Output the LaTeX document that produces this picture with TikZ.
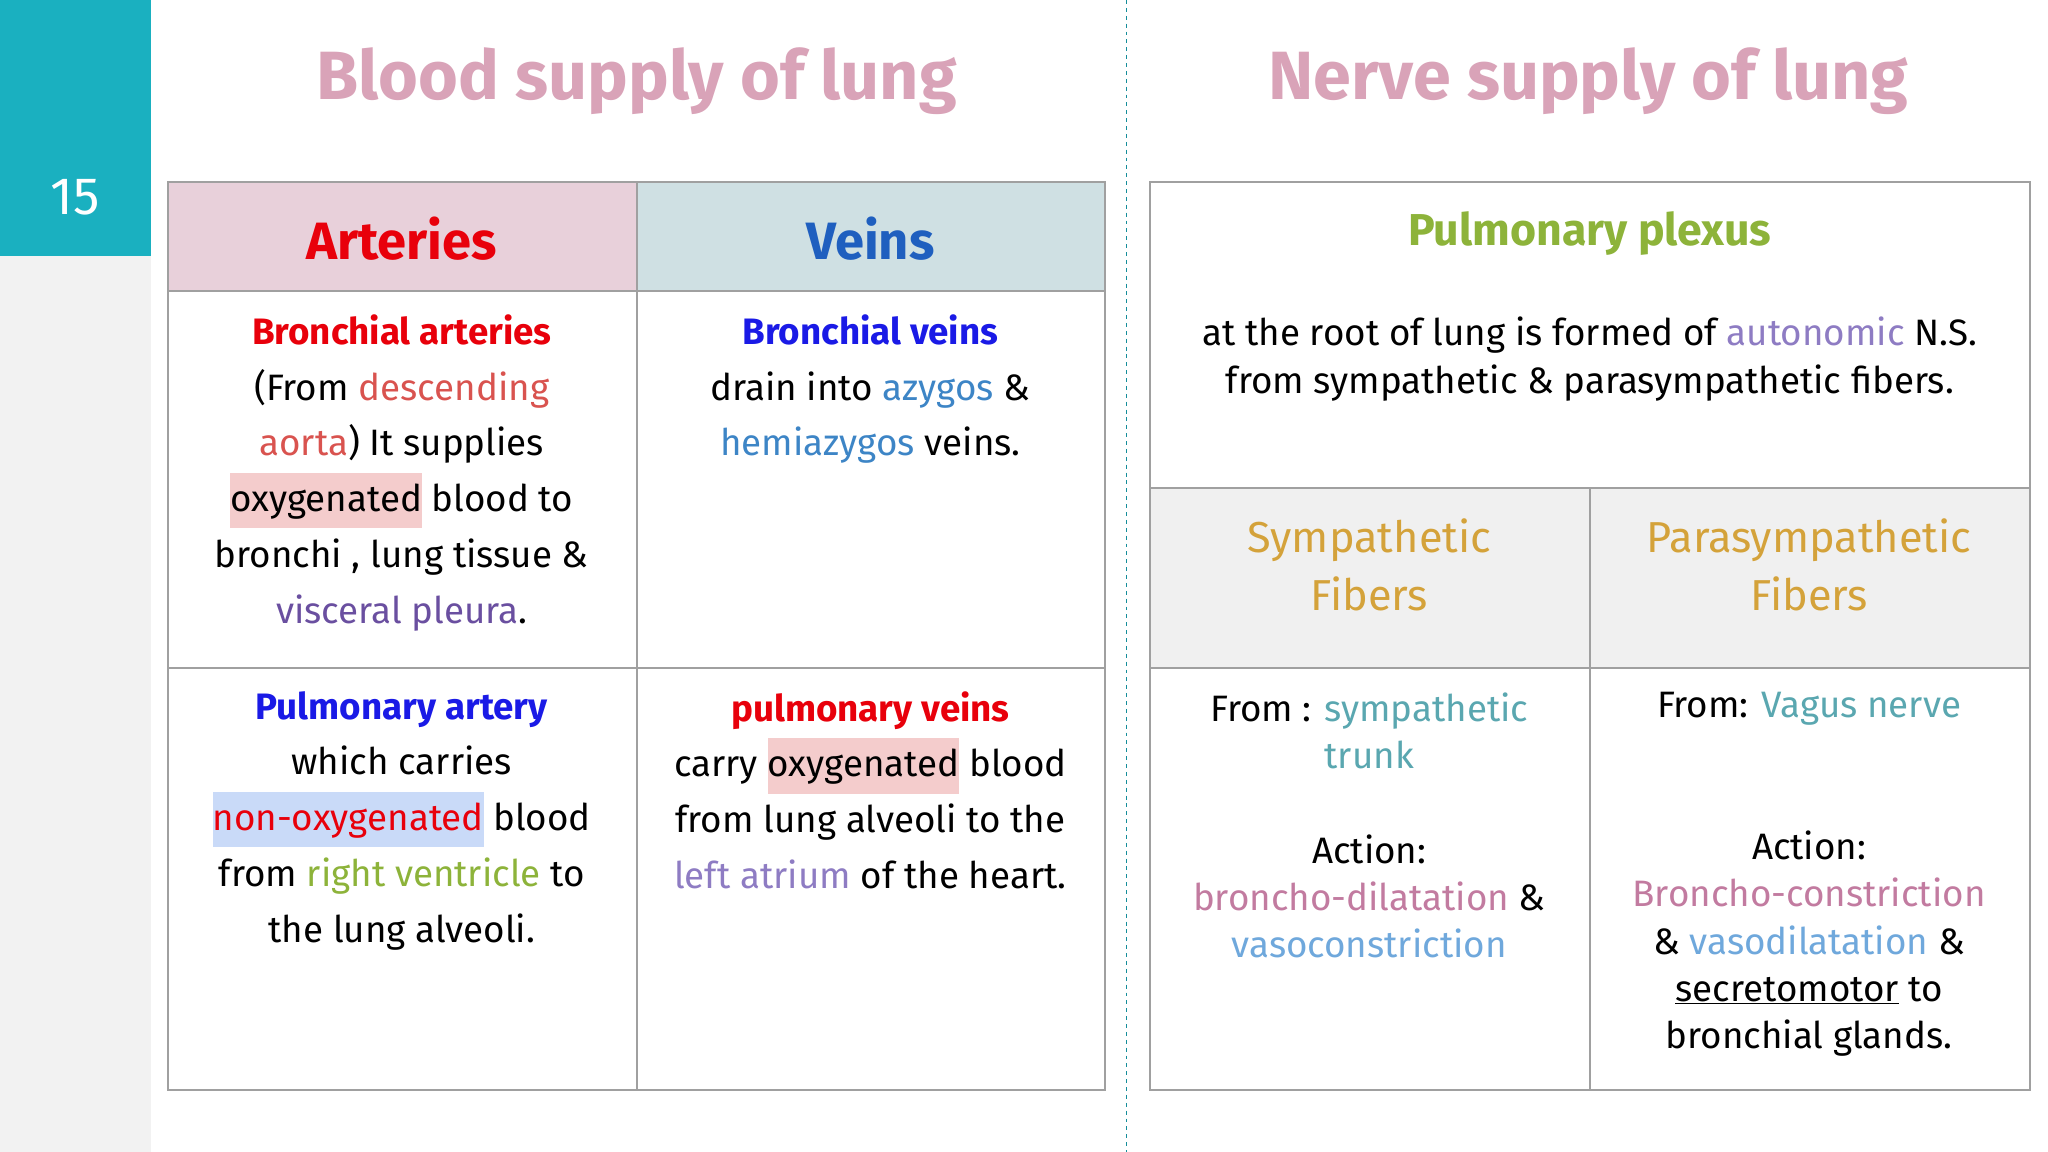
\documentclass[tikz,border=0pt]{standalone}
\usepackage{fontspec}
\setmainfont{Fira Sans}
\usepackage{xcolor}
\definecolor{teal1}{HTML}{1AB0C0}
\definecolor{ttl}{HTML}{D9A3B8}
\definecolor{rd}{HTML}{E8000B}
\definecolor{salm}{HTML}{D9534F}
\definecolor{purp}{HTML}{6A4FA0}
\definecolor{vblue}{HTML}{1F5FBF}
\definecolor{bblue}{HTML}{1A1AE6}
\definecolor{azb}{HTML}{3D85C6}
\definecolor{grn}{HTML}{8DB33A}
\definecolor{lav}{HTML}{8E7CC3}
\definecolor{gold}{HTML}{D4A23A}
\definecolor{tealt}{HTML}{5AA7B0}
\definecolor{pnk}{HTML}{C27BA0}
\definecolor{lblue}{HTML}{6FA8DC}
\definecolor{hlpink}{HTML}{F4CCCC}
\definecolor{hlblue}{HTML}{C9DAF8}
\definecolor{artbg}{HTML}{E8D0DA}
\definecolor{veinbg}{HTML}{CFE0E3}
\definecolor{fibbg}{HTML}{F0F0F0}
\definecolor{grid}{HTML}{A0A0A0}
\newcommand{\hlx}[2]{{\setlength{\fboxsep}{0pt}\colorbox{#1}{\strut #2}}}
\tikzset{
 cell/.style={draw=grid, line width=1.5pt},
 body/.style={align=center, anchor=north, font=\fontsize{28}{42.5}\selectfont},
 rbody/.style={align=center, anchor=north, font=\fontsize{28}{36}\selectfont},
 head/.style={font=\fontsize{40}{40}\selectfont\bfseries},
 ttlst/.style={font=\fontsize{52}{54}\selectfont\bfseries, text=ttl}
}
\begin{document}
\begin{tikzpicture}[x=1pt,y=-1pt]
\useasboundingbox (0,0) rectangle (1560,877.5);
\fill[white] (0,0) rectangle (1560,877.5);
\fill[black!5] (0,195) rectangle (115,877.5);
\fill[teal1] (0,0) rectangle (115,195);
\node[text=white, font=\fontsize{40}{44}\selectfont] (num) at (57,150) {15};
\node[ttlst] (t1) at (485,62) {Blood supply of lung};
\node[ttlst] (t2) at (1210,62) {Nerve supply of lung};
\draw[teal1!80!black, dashed, line width=1.2pt] (858,0) -- (858,877.5);
% left table
\fill[artbg] (128,139) rectangle (485,222);
\fill[veinbg] (485,139) rectangle (842,222);
\draw[cell] (128,139) rectangle (842,830);
\draw[cell] (485,139) -- (485,830);
\draw[cell] (128,222) -- (842,222);
\draw[cell] (128,509) -- (842,509);
\node[head, text=rd] (art) at (306,182) {Arteries};
\node[head, text=vblue] (vein) at (663,182) {Veins};
\node[body] (c11) at (306,236) {\textbf{\textcolor{rd}{Bronchial arteries}}\\
(From \textcolor{salm}{descending}\\ \textcolor{salm}{aorta}) It supplies\\
\hlx{hlpink}{oxygenated} blood to\\ bronchi , lung tissue \&\\ \textcolor{purp}{visceral pleura}.};
\node[body] (c12) at (663,236) {\textbf{\textcolor{bblue}{Bronchial veins}}\\
drain into \textcolor{azb}{azygos} \&\\ \textcolor{azb}{hemiazygos} veins.};
\node[body] (c21) at (306,523) {\textbf{\textcolor{bblue}{Pulmonary artery}}\\ which carries\\
\hlx{hlblue}{\textcolor{rd}{non-oxygenated}} blood\\ from \textcolor{grn}{right ventricle} to\\ the lung alveoli.};
\node[body] (c22) at (663,523) {\textbf{\textcolor{rd}{pulmonary veins}}\\ carry \hlx{hlpink}{oxygenated} blood\\
from lung alveoli to the\\ \textcolor{lav}{left atrium} of the heart.};
% right table
\fill[fibbg] (876,372) rectangle (1546,509);
\draw[cell] (876,139) rectangle (1546,830);
\draw[cell] (876,372) -- (1546,372);
\draw[cell] (876,509) -- (1546,509);
\draw[cell] (1211,372) -- (1211,830);
\node[font=\fontsize{34}{36}\selectfont\bfseries, text=grn] (pp) at (1211,178) {Pulmonary plexus};
\node[rbody] (ppt) at (1211,238) {at the root of lung is formed of \textcolor{lav}{autonomic} N.S.\\ from sympathetic \& parasympathetic fibers.};
\node[font=\fontsize{33}{44}\selectfont, text=gold, align=center] (sf) at (1043,430) {Sympathetic\\ Fibers};
\node[font=\fontsize{33}{44}\selectfont, text=gold, align=center] (pf) at (1378,430) {Parasympathetic\\ Fibers};
\node[rbody] (sc) at (1043,524) {From : \textcolor{tealt}{sympathetic}\\ \textcolor{tealt}{trunk}\\[36pt]
Action:\\ \textcolor{pnk}{broncho-dilatation} \&\\ \textcolor{lblue}{vasoconstriction}};
\node[rbody] (pc) at (1378,524) {From: \textcolor{tealt}{Vagus nerve}\\[72pt]
Action:\\ \textcolor{pnk}{Broncho-constriction}\\ \& \textcolor{lblue}{vasodilatation} \&\\ \underline{secretomotor} to\\ bronchial glands.};
\end{tikzpicture}
\end{document}
